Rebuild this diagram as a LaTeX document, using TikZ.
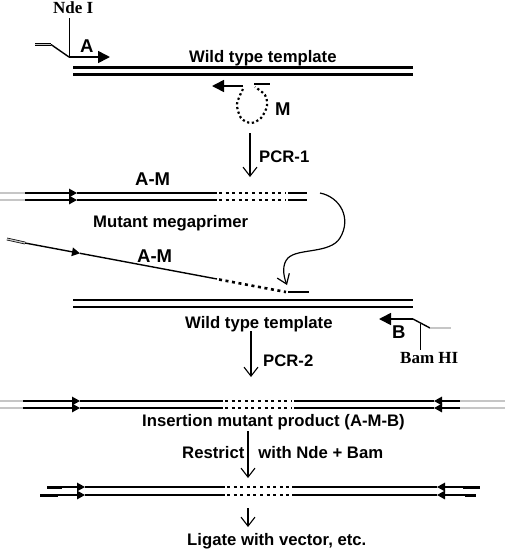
\documentclass[tikz,border=0pt]{standalone}
\usepackage{fontspec}
\setsansfont{Liberation Sans}
\newfontfamily\sitefont{Liberation Serif}
\usetikzlibrary{arrows.meta}

\tikzset{
  template/.style={line width=2.8pt},
  strand/.style={line width=1.4pt},
  tail/.style={line width=0.7pt, double=gray!45, double distance=1.3pt},
  insert/.style={line width=2.6pt, dash pattern=on 3pt off 3.6pt},
  loopdots/.style={line width=2.2pt, dash pattern=on 2.2pt off 2.6pt},
  flow/.style={line width=1.1pt, -{Straight Barb[length=9pt,width=14pt]}},
  primer/.style={line width=1.6pt, -{Triangle[length=12pt,width=12pt]}},
  mid/.style={-{Triangle[length=8pt,width=8.5pt]}},
  tick/.style={line width=0.7pt},
  lbl/.style={font=\fontsize{16.7}{20}\selectfont\sffamily\bfseries, inner sep=0pt, anchor=base west},
  big/.style={font=\fontsize{18.5}{22}\selectfont\sffamily\bfseries, inner sep=0pt, anchor=base west},
  site/.style={font=\fontsize{17}{20}\selectfont\sitefont\bfseries, inner sep=0pt, anchor=base west},
}

\begin{document}
\begin{tikzpicture}[x=1pt,y=-1pt]
  \useasboundingbox (0,0) rectangle (509,550);

  % primer A with the Nde I site
  \node[site] (nde) at (53,13) {Nde I};
  \coordinate (aKink) at (69,57);
  \draw[tail] (35,44.5) -- (51,44.5);
  \draw[line width=1.4pt] (51,44.5) -- (aKink);
  \draw[primer] (aKink) -- (110,57);
  \draw[tick] (aKink |- 0,18) -- (aKink);
  \node[big] (a) at (80,52) {A};

  % wild type template
  \draw[template] (73,67.5) -- (413,67.5);
  \draw[template] (73,74.5) -- (413,74.5);
  \node[lbl] (wt1) at (189,62) {Wild type template};

  % mutagenic primer M
  \coordinate (mStart) at (243,86);
  \draw[primer] (mStart) -- (212,86);
  \draw[loopdots] plot[smooth] coordinates {(243,89) (237,104) (241,118) (251,123) (261,118) (267,106) (265,95) (255,87)};
  \draw[line width=1.2pt] (254,84) -- (270,84);
  \node[big] (m) at (275,115) {M};

  \draw[flow] (250,133) -- (250,177);
  \node[lbl] (pcr1) at (259,162) {PCR-1};

  % mutant megaprimer
  \foreach \y in {193,200} {
    \draw[tail] (0,\y) -- (25,\y);
    \draw[strand,mid] (25,\y) -- (77,\y);
    \draw[strand] (77,\y) -- (217,\y);
    \draw[insert] (219,\y) -- (286,\y);
    \draw[strand] (288,\y) -- (307,\y);
  }
  \node[big] (am1) at (135,185) {A-M};
  \node[lbl] (mega) at (93,227) {Mutant megaprimer};

  % megaprimer goes back onto the template
  \coordinate (bendFrom) at (320,193);
  \coordinate (bendTo) at (287,285);
  \draw[line width=1.2pt, -{Straight Barb[length=9pt,width=13pt]}] (bendFrom)
    .. controls (340,197) and (352,218) .. (340,238)
    .. controls (330,254) and (298,248) .. (288,258)
    .. controls (282,264) and (283,275) .. (bendTo);

  \draw[tail] (7,239) -- (25,243);
  \draw[strand,mid] (25,243) -- (80,253.3);
  \draw[strand] (80,253.3) -- (217,279);
  \draw[insert] (219,279.5) -- (286,292);
  \draw[strand] (288,292) -- (309,292);
  \node[big] (am2) at (137,262) {A-M};

  \draw[template] (73,300) -- (413,300);
  \draw[template] (73,307) -- (413,307);
  \node[lbl] (wt2) at (185,328) {Wild type template};

  % primer B with the Bam HI site
  \coordinate (bKink) at (413,319);
  \draw[primer] (bKink) -- (379,319);
  \draw[line width=1.4pt] (bKink) -- (430,328);
  \draw[tail] (430,328) -- (451,328);
  \node[big] (b) at (392,338) {B};
  \node[site] (bam) at (400,363) {Bam HI};
  \draw[tick] (420,324) -- (420,350);

  \draw[flow] (251,331) -- (251,377);
  \node[lbl] (pcr2) at (263,366) {PCR-2};

  % insertion mutant product
  \foreach \y in {401,408} {
    \draw[tail] (0,\y) -- (23,\y);
    \draw[strand,mid] (23,\y) -- (80,\y);
    \draw[strand] (80,\y) -- (223,\y);
    \draw[insert] (225,\y) -- (292,\y);
    \draw[strand] (294,\y) -- (434,\y);
    \draw[strand,mid] (460,\y) -- (434,\y);
    \draw[tail] (460,\y) -- (505,\y);
  }
  \node[lbl] (ins) at (142,426) {Insertion mutant product (A-M-B)};

  \draw[flow] (248,431) -- (248,478);
  \node[lbl] (restrict) at (182,458) {Restrict\hspace{14pt}with Nde + Bam};

  % restricted fragment
  \draw[line width=3pt] (47,487) -- (62,487);
  \draw[line width=3pt] (40,495) -- (58,495);
  \draw[line width=3pt] (463,487) -- (480,487);
  \draw[line width=3pt] (465,495) -- (476,495);
  \foreach \y/\l/\r in {487/62/463,495/58/465} {
    \draw[strand,mid] (\l,\y) -- (85,\y);
    \draw[strand] (85,\y) -- (225,\y);
    \draw[insert] (227,\y) -- (290,\y);
    \draw[strand] (292,\y) -- (437,\y);
    \draw[strand,mid] (\r,\y) -- (437,\y);
  }

  \draw[flow] (248,508) -- (248,527);
  \node[lbl] (ligate) at (187,545) {Ligate with vector, etc.};
\end{tikzpicture}
\end{document}
